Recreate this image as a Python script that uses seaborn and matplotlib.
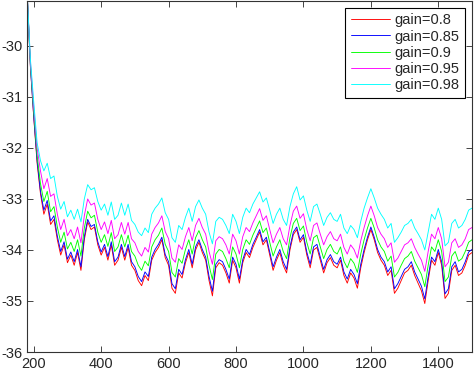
#=========================================Library==========================================
import numpy as np
import matplotlib
matplotlib.use("Agg")
import matplotlib.pyplot as plt
import pandas as pd
import seaborn as sns

#=========================================Data==========================================
x_vals = list(range(180, 1510, 10))

gain_labels = ["gain=0.8", "gain=0.85", "gain=0.9", "gain=0.95", "gain=0.98"]
line_colors = ["#ff0000", "#0000ff", "#00ff00", "#ff00ff", "#00ffff"]

gain_080 = [-28.9, -30.4, -31.4, -32.3, -32.9, -33.3, -33.1, -33.5, -33.4, -33.8,
            -34.1, -33.9, -34.25, -34.1, -34.3, -34.05, -34.4, -33.8, -33.45, -33.6,
            -33.55, -33.9, -34.1, -33.95, -34.2, -33.9, -34.3, -34.2, -33.95, -34.2,
            -33.95, -34.3, -34.4, -34.6, -34.7, -34.5, -34.6, -34.2, -34.05, -33.95,
            -33.8, -34.15, -34.3, -34.75, -34.85, -34.45, -34.55, -34.25, -34.05, -34.35,
            -34.0, -33.85, -34.05, -34.2, -34.6, -34.9, -34.35, -34.25, -34.3, -34.45,
            -34.65, -34.2, -34.35, -34.65, -34.25, -34.05, -34.15, -33.95, -33.8, -33.65,
            -33.9, -33.8, -34.1, -34.4, -34.2, -34.05, -34.3, -34.45, -34.0, -33.7,
            -33.6, -33.85, -33.75, -34.1, -34.35, -34.0, -33.95, -34.2, -34.45, -34.25,
            -34.15, -34.3, -34.35, -34.2, -34.5, -34.65, -34.45, -34.55, -34.75, -34.35,
            -34.05, -33.8, -33.6, -33.8, -34.05, -34.2, -34.3, -34.5, -34.4, -34.85,
            -34.75, -34.6, -34.45, -34.4, -34.3, -34.5, -34.65, -34.8, -35.05, -34.6,
            -34.2, -34.3, -34.05, -34.3, -34.95, -34.85, -34.4, -34.3, -34.5, -34.45,
            -34.3, -34.1, -34.05]

gain_085 = [-28.9, -30.38, -31.38, -32.25, -32.85, -33.22, -33.03, -33.43, -33.33, -33.73,
            -34.03, -33.84, -34.18, -34.04, -34.23, -33.99, -34.33, -33.74, -33.4, -33.54,
            -33.5, -33.84, -34.04, -33.89, -34.13, -33.84, -34.23, -34.14, -33.89, -34.13,
            -33.89, -34.23, -34.33, -34.52, -34.62, -34.43, -34.52, -34.14, -33.99, -33.89,
            -33.75, -34.09, -34.23, -34.66, -34.76, -34.38, -34.48, -34.19, -33.99, -34.28,
            -33.94, -33.8, -33.99, -34.14, -34.52, -34.81, -34.28, -34.19, -34.23, -34.38,
            -34.57, -34.14, -34.28, -34.57, -34.19, -33.99, -34.09, -33.89, -33.75, -33.6,
            -33.84, -33.75, -34.04, -34.33, -34.14, -33.99, -34.23, -34.38, -33.94, -33.65,
            -33.55, -33.8, -33.7, -34.04, -34.28, -33.94, -33.89, -34.14, -34.38, -34.19,
            -34.09, -34.23, -34.28, -34.14, -34.43, -34.57, -34.38, -34.48, -34.66, -34.28,
            -33.99, -33.75, -33.55, -33.75, -33.99, -34.14, -34.23, -34.43, -34.33, -34.76,
            -34.66, -34.52, -34.38, -34.33, -34.23, -34.43, -34.57, -34.71, -34.96, -34.52,
            -34.14, -34.23, -33.99, -34.23, -34.86, -34.76, -34.33, -34.23, -34.43, -34.38,
            -34.23, -34.04, -33.99]

gain_090 = [-28.9, -30.35, -31.3, -32.15, -32.7, -33.05, -32.85, -33.25, -33.15, -33.55,
            -33.85, -33.65, -33.98, -33.85, -34.03, -33.8, -34.12, -33.57, -33.24, -33.37,
            -33.32, -33.65, -33.85, -33.7, -33.93, -33.66, -34.03, -33.94, -33.7, -33.94,
            -33.71, -34.03, -34.12, -34.3, -34.4, -34.22, -34.31, -33.94, -33.8, -33.71,
            -33.57, -33.89, -34.03, -34.44, -34.53, -34.17, -34.26, -33.99, -33.8, -34.08,
            -33.76, -33.62, -33.8, -33.94, -34.3, -34.58, -34.08, -33.99, -34.03, -34.17,
            -34.35, -33.94, -34.08, -34.35, -33.99, -33.8, -33.89, -33.71, -33.57, -33.43,
            -33.66, -33.57, -33.85, -34.12, -33.94, -33.8, -34.03, -34.17, -33.76, -33.48,
            -33.38, -33.62, -33.53, -33.85, -34.08, -33.76, -33.71, -33.94, -34.17, -33.99,
            -33.89, -34.03, -34.08, -33.94, -34.22, -34.35, -34.17, -34.26, -34.44, -34.08,
            -33.8, -33.57, -33.38, -33.57, -33.8, -33.94, -34.03, -34.22, -34.12, -34.53,
            -34.44, -34.3, -34.17, -34.12, -34.03, -34.22, -34.35, -34.48, -34.72, -34.3,
            -33.94, -34.03, -33.8, -34.03, -34.62, -34.53, -34.12, -34.03, -34.22, -34.17,
            -34.03, -33.85, -33.8]

gain_095 = [-28.9, -30.3, -31.2, -32.0, -32.45, -32.8, -32.6, -32.95, -32.9, -33.3,
            -33.6, -33.4, -33.72, -33.6, -33.78, -33.55, -33.86, -33.33, -33.0, -33.12,
            -33.08, -33.4, -33.6, -33.45, -33.68, -33.42, -33.78, -33.7, -33.46, -33.69,
            -33.46, -33.78, -33.86, -34.03, -34.12, -33.95, -34.04, -33.69, -33.56, -33.47,
            -33.33, -33.64, -33.78, -34.16, -34.24, -33.9, -33.99, -33.74, -33.56, -33.82,
            -33.52, -33.38, -33.56, -33.69, -34.03, -34.28, -33.82, -33.74, -33.78, -33.9,
            -34.08, -33.69, -33.82, -34.08, -33.74, -33.56, -33.64, -33.47, -33.33, -33.19,
            -33.42, -33.33, -33.6, -33.86, -33.69, -33.56, -33.78, -33.9, -33.52, -33.24,
            -33.14, -33.38, -33.29, -33.6, -33.82, -33.52, -33.47, -33.69, -33.9, -33.74,
            -33.64, -33.78, -33.82, -33.69, -33.95, -34.08, -33.9, -33.99, -34.16, -33.82,
            -33.56, -33.33, -33.14, -33.33, -33.56, -33.69, -33.78, -33.95, -33.86, -34.24,
            -34.16, -34.03, -33.9, -33.86, -33.78, -33.95, -34.08, -34.2, -34.42, -34.03,
            -33.69, -33.78, -33.56, -33.78, -34.33, -34.24, -33.86, -33.78, -33.95, -33.9,
            -33.78, -33.6, -33.56]

gain_098 = [-28.9, -30.25, -31.1, -31.9, -32.25, -32.45, -32.3, -32.6, -32.55, -32.95,
            -33.2, -33.05, -33.35, -33.22, -33.4, -33.2, -33.45, -33.0, -32.72, -32.82,
            -32.78, -33.05, -33.22, -33.1, -33.32, -33.06, -33.4, -33.32, -33.08, -33.32,
            -33.1, -33.42, -33.5, -33.65, -33.72, -33.57, -33.66, -33.3, -33.18, -33.1,
            -32.98, -33.27, -33.4, -33.76, -33.85, -33.52, -33.6, -33.36, -33.18, -33.44,
            -33.15, -33.02, -33.18, -33.3, -33.65, -33.88, -33.44, -33.36, -33.4, -33.52,
            -33.68, -33.3, -33.44, -33.68, -33.36, -33.18, -33.27, -33.1, -32.98, -32.86,
            -33.06, -32.98, -33.22, -33.48, -33.3, -33.18, -33.4, -33.52, -33.15, -32.9,
            -32.76, -33.02, -32.94, -33.22, -33.44, -33.15, -33.1, -33.3, -33.52, -33.36,
            -33.27, -33.4, -33.44, -33.3, -33.57, -33.68, -33.52, -33.6, -33.76, -33.44,
            -33.18, -32.98, -32.8, -32.98, -33.18, -33.3, -33.4, -33.57, -33.48, -33.85,
            -33.76, -33.65, -33.52, -33.48, -33.4, -33.57, -33.68, -33.8, -34.0, -33.65,
            -33.3, -33.4, -33.18, -33.4, -33.92, -33.85, -33.48, -33.4, -33.57, -33.52,
            -33.4, -33.22, -33.18]

#=========================================Frame==========================================
df = pd.DataFrame({"x": x_vals})
for lbl, vals in zip(gain_labels, [gain_080, gain_085, gain_090, gain_095, gain_098]):
    df[lbl] = vals
df = df.melt(id_vars="x", var_name="gain", value_name="y")

#=========================================Plot==========================================
sns.set_style("ticks")
plt.rcParams['font.family'] = ['Liberation Sans', 'DejaVu Sans']
plt.rcParams['axes.unicode_minus'] = False
plt.rcParams['xtick.direction'] = 'in'
plt.rcParams['ytick.direction'] = 'in'

fig = plt.figure(figsize=(4.74, 3.74), dpi=100)
ax = fig.add_axes([27/474, 22/374, 445/474, 351/374])

sns.lineplot(data=df, x="x", y="y", hue="gain", hue_order=gain_labels,
             palette=line_colors, linewidth=0.65, ax=ax)

ax.set_xlim(180, 1500)
ax.set_ylim(-36, -29.12)
ax.set_xticks([200, 400, 600, 800, 1000, 1200, 1400])
ax.set_yticks([-36, -35, -34, -33, -32, -31, -30])
ax.set_xlabel("")
ax.set_ylabel("")
ax.tick_params(axis="both", labelsize=10.5, top=True, right=True, length=4, width=0.6)
for s in ax.spines.values():
    s.set_linewidth(0.8)
    s.set_color("#333333")

leg = ax.legend(loc="upper right", fontsize=10.5, handlelength=2.7, handletextpad=0.3,
                labelspacing=0.15, borderaxespad=0.45, fancybox=False, framealpha=1)
leg.get_frame().set_edgecolor("black")
leg.get_frame().set_linewidth(0.8)

fig.savefig("out.png", dpi=100)
